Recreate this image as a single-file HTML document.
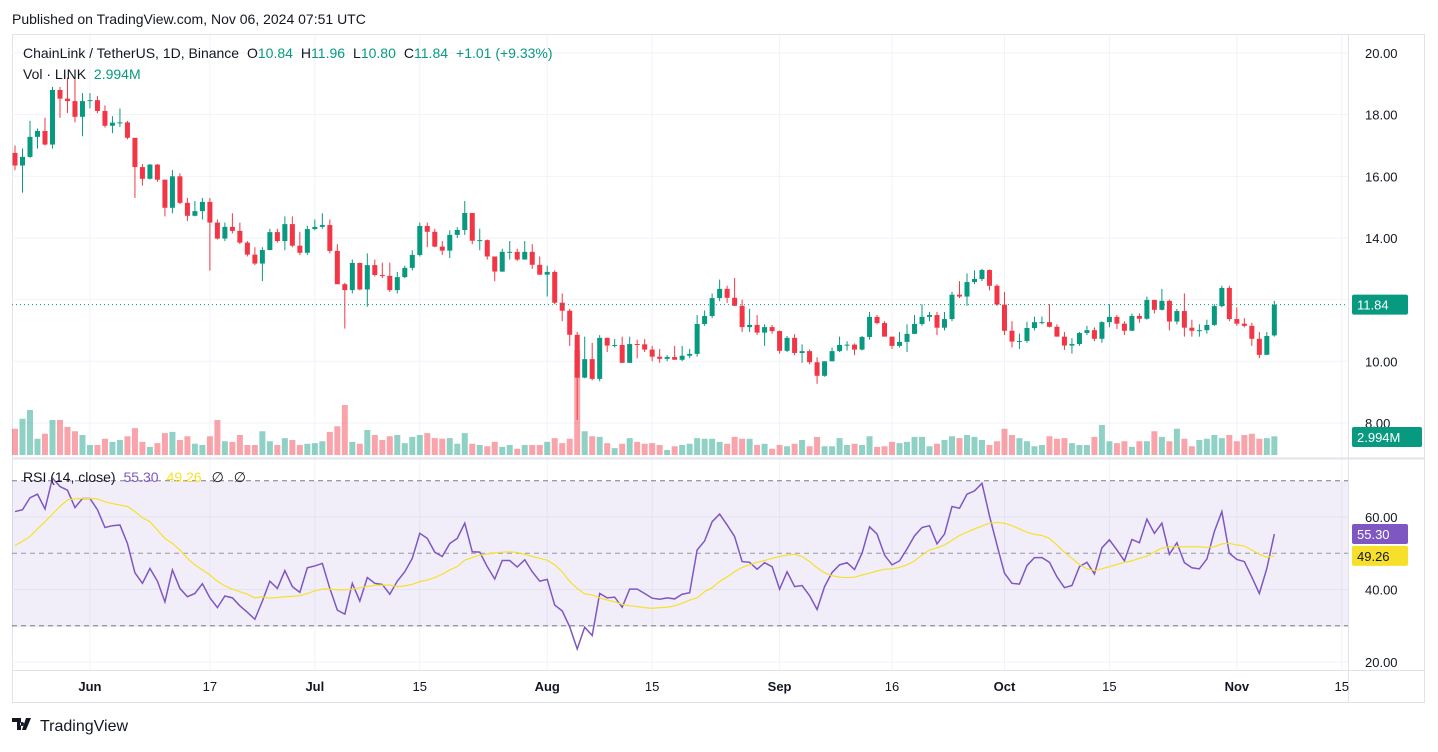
<!DOCTYPE html>
<html><head><meta charset="utf-8"><style>
body{margin:0;background:#fff;width:1438px;height:747px;overflow:hidden;font-family:"Liberation Sans",sans-serif}
svg text{font-family:"Liberation Sans",sans-serif}
</style></head><body>
<svg id="c" width="1438" height="747" xmlns="http://www.w3.org/2000/svg">
<text x="12" y="24" font-size="14" fill="#131722">Published on TradingView.com, Nov 06, 2024 07:51 UTC</text>
<rect x="12.5" y="34.5" width="1412" height="668" fill="none" stroke="#e0e3eb"/>
<g id="grid"></g>
<rect x="12" y="481" width="1336" height="146" fill="#7e57c2" fill-opacity="0.1"/>
<g id="marks"></g>
<line x1="12" y1="458.5" x2="1424" y2="458.5" stroke="#e0e3eb" stroke-width="2"/>
<line x1="1348.5" y1="35" x2="1348.5" y2="702" stroke="#e0e3eb"/>
<line x1="12" y1="670.5" x2="1424" y2="670.5" stroke="#e0e3eb"/>
<g id="labels"></g>
<g font-size="14">
<text x="23" y="58" fill="#131722">ChainLink / TetherUS, 1D, Binance <tspan fill="#131722" dx="4">O</tspan><tspan fill="#089981">10.84</tspan><tspan fill="#131722" dx="8">H</tspan><tspan fill="#089981">11.96</tspan><tspan fill="#131722" dx="8">L</tspan><tspan fill="#089981">10.80</tspan><tspan fill="#131722" dx="8">C</tspan><tspan fill="#089981">11.84</tspan><tspan fill="#089981" dx="8">+1.01 (+9.33%)</tspan></text>
<text x="23" y="79" fill="#131722">Vol · LINK <tspan fill="#089981" dx="4">2.994M</tspan></text>
<text x="23" y="482" fill="#131722">RSI (14, close) <tspan fill="#7e57c2" dx="4">55.30</tspan><tspan fill="#f7e02b" dx="8">49.26</tspan><tspan fill="#131722" dx="10">∅</tspan><tspan fill="#131722" dx="10">∅</tspan></text>
</g>
<g>
<path d="M12 718h9v12h-4v-8h-5z M22 722a2 2 0 1 0 0.1 0z M26 718h5l-5 12h-4z" fill="#131722"/>
<text x="40" y="731" font-size="16" fill="#131722">TradingView</text>
</g>
</svg>
<script>
const closes=[16.35,16.63,17.28,17.47,17.03,18.8,18.52,18.44,17.93,18.44,18.47,18.12,17.64,17.74,17.75,17.25,16.3,15.92,16.38,15.89,14.98,16.0,15.14,14.72,14.87,15.17,14.5,13.98,14.36,14.23,13.85,13.46,13.17,13.61,14.19,13.9,14.45,13.75,13.52,14.29,14.36,14.42,13.58,12.5,12.31,13.19,12.33,13.12,12.8,12.77,12.31,12.73,13.03,13.45,14.39,14.2,13.72,13.59,14.1,14.26,14.81,13.91,13.93,13.4,12.91,13.55,13.55,13.3,13.55,13.13,12.81,12.9,11.9,11.64,10.86,9.47,10.07,9.43,10.76,10.51,10.53,9.95,10.56,10.55,10.38,10.15,10.08,10.14,10.05,10.18,10.24,11.21,11.47,12.05,12.35,12.06,11.8,11.11,11.18,10.93,11.11,10.98,10.34,10.76,10.27,10.33,9.97,9.53,10.0,10.33,10.53,10.54,10.38,10.79,11.44,11.24,10.8,10.5,10.63,10.89,11.21,11.44,11.5,11.09,11.37,12.16,12.1,12.57,12.67,12.96,12.45,11.84,10.99,10.64,10.66,11.08,11.27,11.27,11.12,10.8,10.51,10.56,10.92,11.01,10.73,11.27,11.44,11.22,10.99,11.47,11.38,11.99,11.67,11.96,11.29,11.63,11.09,10.99,11.01,11.18,11.79,12.38,11.37,11.22,11.15,10.73,10.21,10.82,11.84];
const opens=[16.76,16.35,16.63,17.28,17.47,17.03,18.8,18.52,18.44,17.93,18.44,18.47,18.12,17.64,17.75,17.75,17.25,16.3,15.92,16.38,15.89,14.98,16.0,15.14,14.72,14.87,15.17,14.5,13.98,14.36,14.23,13.85,13.46,13.17,13.61,14.19,13.9,14.45,13.75,13.52,14.29,14.36,14.42,13.58,12.5,12.31,13.19,12.33,13.12,12.8,12.77,12.31,12.73,13.03,13.45,14.39,14.2,13.72,13.59,14.1,14.26,14.81,13.91,13.93,13.4,12.91,13.55,13.55,13.3,13.55,13.13,12.81,12.9,11.9,11.64,10.86,9.47,10.07,9.43,10.76,10.51,10.53,9.95,10.56,10.55,10.38,10.15,10.08,10.14,10.05,10.18,10.24,11.21,11.47,12.05,12.35,12.06,11.8,11.11,11.18,10.93,11.11,10.98,10.34,10.76,10.27,10.33,9.97,9.53,10.0,10.33,10.53,10.54,10.38,10.79,11.44,11.24,10.8,10.5,10.63,10.89,11.21,11.44,11.5,11.09,11.37,12.16,12.1,12.57,12.67,12.96,12.45,11.84,10.99,10.64,10.66,11.08,11.27,11.27,11.12,10.8,10.51,10.56,10.92,11.01,10.73,11.27,11.44,11.22,10.99,11.47,11.38,11.99,11.67,11.96,11.29,11.63,11.09,10.99,11.01,11.18,11.79,12.38,11.37,11.22,11.15,10.73,10.21,10.84];
const highs=[17.0,16.9,17.8,17.55,17.9,18.9,18.9,19.2,19.2,18.7,18.7,18.6,18.3,17.95,18.2,17.8,17.2,16.4,16.4,16.4,15.9,16.2,16.1,15.3,15.2,15.3,15.3,14.6,14.5,14.8,14.5,13.9,13.7,13.7,14.3,14.3,14.7,14.7,14.2,14.4,14.6,14.8,14.6,13.8,12.55,13.3,13.2,13.5,13.3,13.2,13.2,12.9,13.1,13.6,14.5,14.5,14.3,13.9,14.25,14.35,15.2,14.8,14.3,13.95,13.4,13.65,13.9,13.65,13.9,13.8,13.4,13.1,12.95,12.2,11.7,10.95,10.8,10.6,10.85,10.77,10.72,10.8,10.8,10.7,10.72,10.5,10.4,10.2,10.5,10.5,10.4,11.5,11.65,12.2,12.65,12.45,12.7,12.0,11.7,11.5,11.2,11.18,11.0,10.82,10.88,10.55,10.38,10.13,10.0,10.45,10.8,10.65,10.58,10.82,11.6,11.5,11.3,10.8,10.95,11.2,11.5,11.85,11.6,11.6,11.6,12.25,12.6,12.85,12.95,13.0,12.98,12.5,12.25,11.3,10.9,11.28,11.45,11.45,11.85,11.2,10.95,10.75,10.95,11.15,11.1,11.3,11.85,11.5,11.3,11.55,11.55,12.1,12.0,12.35,12.0,11.7,12.2,11.35,11.2,11.35,11.85,12.45,12.45,11.75,11.4,11.25,10.95,10.95,11.96];
const lows=[16.2,15.47,16.6,16.9,17.0,16.9,17.9,18.05,17.75,17.3,18.2,18.05,17.58,17.4,17.6,17.2,15.3,15.7,15.9,15.82,14.7,14.8,15.1,14.55,14.7,14.6,12.94,13.95,13.9,14.15,13.8,13.4,13.12,12.6,13.6,13.85,13.6,13.7,13.45,13.45,14.25,14.3,13.5,12.5,11.06,12.2,12.3,11.77,12.75,12.7,12.25,12.2,12.7,12.95,13.4,13.7,13.7,13.45,13.35,14.0,14.1,13.8,13.6,13.3,12.6,12.9,13.3,13.25,13.3,13.0,12.8,12.1,11.85,11.3,10.5,8.1,9.45,9.38,9.35,10.3,10.45,9.95,9.95,10.1,10.3,10.0,9.95,10.0,10.05,10.0,10.1,10.15,11.15,11.4,11.95,11.9,11.8,10.95,10.95,10.85,10.5,10.9,10.25,10.3,10.2,9.95,9.9,9.27,9.5,10.0,10.3,10.35,10.2,10.35,10.7,11.2,10.8,10.4,10.45,10.3,10.88,11.15,11.3,10.85,11.0,11.3,12.05,11.8,12.5,12.6,12.3,11.8,10.85,10.45,10.4,10.6,11.0,11.2,11.1,10.8,10.37,10.25,10.5,10.85,10.65,10.6,11.1,11.05,10.85,10.99,11.25,11.35,11.55,11.65,11.0,11.2,10.8,10.8,10.8,10.9,11.15,11.75,11.3,11.15,11.1,10.5,10.1,10.2,10.8];
const volumes=[4.2,5.8,7.2,2.6,3.4,5.6,5.6,4.5,3.8,3.2,1.6,1.6,2.6,2.1,2.4,3.0,4.3,2.1,1.3,1.9,3.5,3.7,2.4,3.0,1.8,1.6,3.0,5.6,2.2,2.1,3.2,1.6,1.6,3.8,2.2,1.6,2.7,2.4,1.6,1.8,1.9,2.2,3.7,4.6,8.0,2.1,1.8,4.0,3.2,2.4,3.0,3.2,1.9,2.9,3.2,3.5,2.7,2.6,2.7,1.8,3.5,1.8,1.6,1.4,2.1,1.3,1.6,1.0,1.6,1.6,1.6,2.1,2.7,1.9,2.6,16.8,3.8,3.0,2.9,1.9,1.1,1.8,2.7,2.1,1.8,1.9,1.6,0.8,1.4,1.6,1.8,2.7,2.6,2.6,2.1,1.8,2.9,2.6,2.6,1.6,1.8,1.0,1.6,1.4,1.8,2.4,1.4,2.9,1.4,1.4,2.7,1.6,1.8,1.6,3.0,1.3,1.4,2.1,1.9,2.1,2.9,2.9,1.4,1.8,2.4,3.0,2.7,3.2,2.9,2.4,1.6,2.2,4.2,3.2,2.7,2.2,1.4,1.6,3.0,2.6,2.7,1.9,1.6,1.6,2.9,4.8,2.2,1.9,2.2,1.3,2.2,2.2,3.8,2.9,2.2,4.2,2.6,1.4,2.4,2.6,3.2,2.7,3.2,2.2,3.2,3.4,2.6,2.7,2.994];
const rsiValues=[61.5,62,65.3,66.3,62.2,70.7,68.4,67.4,62.6,65.1,65.1,62,57.1,57.6,57.8,52.7,44.6,41.7,45.8,42.3,36.6,45.4,40.3,38,38.9,41.6,37.7,35,38.2,37.7,35.5,33.7,31.8,36.8,42.3,40.3,45.2,40.8,39.2,46,46.5,47.2,40.3,34.3,33.2,41.7,36.8,43.3,41.7,41.4,38.7,42.3,44.9,48.6,55.5,54.1,50.3,49.1,52.7,54.1,58.3,50.4,50.3,46.3,42.9,48,48,46.2,48.2,44.9,42.3,42.8,35.7,34.1,29.7,23.6,29.6,27.3,38.9,37.7,37.9,35.1,40.1,40.1,38.9,37.6,37.3,37.7,37.4,38.7,39.1,50.9,53.4,58.7,60.8,57.8,54.6,47.7,47.5,45.6,47.4,46.3,40.1,44.9,40.8,41.1,38.3,34.5,40.8,44.7,46.8,47.4,45.5,50,57.3,55.3,49.5,46.8,47.9,51.2,54.8,57.1,57.6,52.6,55.3,62.9,62.4,66.3,67.2,69.3,60.3,52.3,44.5,41.7,41.5,46.6,48.8,48.8,47.5,43.5,40.5,41.1,46.3,47.5,44.3,51.5,53.7,50.9,47.9,53.8,52.9,59.4,55.5,58.3,49.7,52.9,47.4,46,45.7,48.4,56,61.5,50,48.3,47.7,43.4,38.9,45.8,55.3];
const rsiMA=[52.1,53.3,54.6,56.7,58.7,60.8,62.9,64.7,65.0,65.1,65.1,65.0,64.2,63.7,63.3,62.9,61.5,59.8,58.7,56.4,54.1,52.7,50.9,48.6,46.8,45.4,44.0,42.3,41.0,40.1,39.4,38.7,37.7,38.0,37.6,37.8,38.0,38.1,38.3,38.9,39.6,40.1,40.1,39.9,39.9,40.1,40.5,40.8,41.2,41.2,41.2,40.8,41.0,41.4,42.2,42.6,43.3,44.2,45.4,46.3,48.1,48.8,49.5,49.8,50.1,50.3,50.4,50.2,49.7,49.1,48.6,48.1,46.8,44.9,42.2,40.3,38.8,38.5,37.7,37.1,36.6,35.9,35.5,35.3,35.0,34.8,35.0,35.1,35.5,36.2,37.1,37.7,39.4,40.5,42.2,43.5,44.9,46.1,46.8,47.5,48.0,48.6,49.1,49.5,49.7,49.1,47.7,46.0,44.6,43.8,43.4,43.3,43.4,44.0,44.5,45.1,45.6,45.7,46.1,46.8,47.9,49.5,50.9,51.5,52.3,53.6,54.9,55.8,56.7,57.5,58.3,58.5,58.3,57.6,56.7,55.8,55.2,54.9,54.1,52.3,50.3,48.6,46.9,45.7,45.2,45.7,46.3,46.9,47.5,47.9,48.6,49.2,50.4,51.4,51.8,51.8,51.8,51.8,51.8,51.6,51.8,52.6,52.7,52.3,52.0,50.9,49.7,48.9,49.26];
const priceTicks=[20,18,16,14,12,10,8];
const rsiTicks=[60,40,20];
const timeTicks=[["Jun",10,true],["17",26,false],["Jul",40,true],["15",54,false],["Aug",71,true],["15",85,false],["Sep",102,true],["16",117,false],["Oct",132,true],["15",146,false],["Nov",163,true],["15",177,false]];

const NS="http://www.w3.org/2000/svg";
const X0=15, DX=7.496;
const xAt=i=>X0+DX*i;
const yP=p=>53+(20-p)*30.83;
const yV=v=>455-v*6.25;
const yR=r=>517+(60-r)*3.625;
function mk(tag,attrs,parent){const e=document.createElementNS(NS,tag);for(const k in attrs)e.setAttribute(k,attrs[k]);parent.appendChild(e);return e;}
const grid=document.getElementById('grid'),marks=document.getElementById('marks'),labels=document.getElementById('labels');

priceTicks.forEach(p=>{
  const l=mk('line',{x1:12,x2:1348,y1:yP(p),y2:yP(p),stroke:'#f0f3fa'},grid);
  
  
  const t=mk('text',{x:1365,y:yP(p)+5,'font-size':13,fill:'#131722'},labels);
  t.textContent=p.toFixed(2);
  
  
});
rsiTicks.forEach(r=>{
  const l=mk('line',{x1:12,x2:1348,y1:yR(r),y2:yR(r),stroke:'#f0f3fa'},grid);
  
  
  const t=mk('text',{x:1365,y:yR(r)+5,'font-size':13,fill:'#131722'},labels);
  t.textContent=r.toFixed(2);
  
  
});
timeTicks.forEach(([lab,i,bold])=>{
  const x=xAt(i);
  const l=mk('line',{x1:x,x2:x,y1:35,y2:670,stroke:'#f0f3fa'},grid);
  
  
  const t=mk('text',{x:x,y:691,'font-size':13,fill:'#131722','text-anchor':'middle','font-weight':bold?'bold':'normal'},labels);
  t.textContent=lab;
  
  
});
// rsi dashed lines
[70,50,30].forEach(r=>{
  const l=mk('line',{x1:12,x2:1348,y1:yR(r),y2:yR(r),stroke:r==50?'#9598a1':'#787b86','stroke-dasharray':'5,4'},marks);
  
  
});
// volume
volumes.forEach((v,i)=>{
  const up=closes[i]>=opens[i];
  const r=mk('rect',{x:xAt(i)-3,y:yV(v),width:6,height:455-yV(v),fill:up?'rgba(8,153,129,0.45)':'rgba(242,54,69,0.45)'},marks);
  
  
});
// candles
closes.forEach((c,i)=>{
  const o=opens[i],up=c>=o,col=up?'#089981':'#f23645',x=xAt(i);
  const w=mk('line',{x1:x,x2:x,y1:yP(highs[i]),y2:yP(lows[i]),stroke:col,'stroke-width':1},marks);
  
  
  const top=yP(Math.max(o,c)),bot=yP(Math.min(o,c));
  const b=mk('rect',{x:x-2.5,y:top,width:5,height:Math.max(1,bot-top),fill:col},marks);
  
  
});
// last price line
const lp=closes[closes.length-1];
const pl=mk('line',{x1:12,x2:1348,y1:yP(lp),y2:yP(lp),stroke:'#089981','stroke-dasharray':'1,3'},marks);


// rsi lines
const rp=mk('polyline',{points:rsiValues.map((r,i)=>xAt(i)+','+yR(r)).join(' '),fill:'none',stroke:'#7e57c2','stroke-width':1.5},marks);


const mp=mk('polyline',{points:rsiMA.map((r,i)=>xAt(i)+','+yR(r)).join(' '),fill:'none',stroke:'#f7e02b','stroke-width':1.2},marks);


// axis badges
function badge(y,txt,bg,fg,w,name){
  const g=mk('g',{},labels);
  
  
  mk('rect',{x:1352,y:y-10,width:w,height:20,rx:2,fill:bg},g);
  const t=mk('text',{x:1357,y:y+5,'font-size':13,fill:fg},g);t.textContent=txt;
}
badge(yP(lp),lp.toFixed(2),'#089981','#fff',56,'last-price-badge');
badge(437,'2.994M','#089981','#fff',70,'volume-badge');
badge(yR(rsiValues[rsiValues.length-1]),rsiValues[rsiValues.length-1].toFixed(2),'#7e57c2','#fff',56,'rsi-badge');
badge(yR(rsiMA[rsiMA.length-1]),rsiMA[rsiMA.length-1].toFixed(2),'#f7e02b','#131722',56,'rsi-ma-badge');
</script>
</body></html>
